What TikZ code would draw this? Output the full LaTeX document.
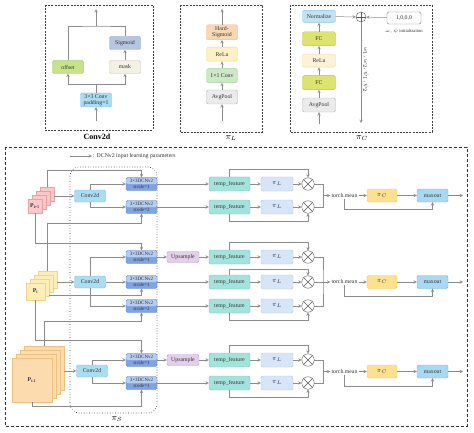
\documentclass[tikz,border=0pt]{standalone}
\usepackage{fontspec}
\setmainfont{Liberation Serif}
\usepackage{amsmath}
\usetikzlibrary{positioning, shapes.geometric}

\definecolor{linegray}{HTML}{8C8C8C}
\definecolor{txtgray}{HTML}{333333}
\definecolor{convfill}{HTML}{AADCF2}
\definecolor{convedge}{HTML}{7FBFE0}
\definecolor{offfill}{HTML}{C8E28C}
\definecolor{offedge}{HTML}{98C050}
\definecolor{maskfill}{HTML}{F3F0E6}
\definecolor{maskedge}{HTML}{C8C4B0}
\definecolor{sigfill}{HTML}{B4C6E0}
\definecolor{sigedge}{HTML}{8EA8CC}
\definecolor{hsigfill}{HTML}{F8D7B4}
\definecolor{hsigedge}{HTML}{E8B888}
\definecolor{relufill}{HTML}{FDF0C4}
\definecolor{reluedge}{HTML}{F0D890}
\definecolor{lconvfill}{HTML}{CDE8C6}
\definecolor{lconvedge}{HTML}{A8D0A0}
\definecolor{poolfill}{HTML}{EBEBEB}
\definecolor{pooledge}{HTML}{B8B8B8}
\definecolor{normfill}{HTML}{C2E2F2}
\definecolor{normedge}{HTML}{8CC4E0}
\definecolor{fcfill}{HTML}{DCE36E}
\definecolor{fcedge}{HTML}{B8C040}
\definecolor{kelufill}{HTML}{FDF1D6}
\definecolor{keluedge}{HTML}{F0D8A8}
\definecolor{pinkfill}{HTML}{FAC8C8}
\definecolor{pinkedge}{HTML}{E8A0A0}
\definecolor{yelfill}{HTML}{FDEDB8}
\definecolor{yeledge}{HTML}{F0D48C}
\definecolor{orgfill}{HTML}{FCDCAE}
\definecolor{orgedge}{HTML}{F0C080}
\definecolor{dcnlight}{HTML}{B6CDF2}
\definecolor{dcndark}{HTML}{80A4E2}
\definecolor{dcnedge}{HTML}{6C90D0}
\definecolor{tffill}{HTML}{A4E2DC}
\definecolor{tfedge}{HTML}{70C8C0}
\definecolor{plfill}{HTML}{D6E6F8}
\definecolor{pledge}{HTML}{B0C8E8}
\definecolor{upfill}{HTML}{E2D0EA}
\definecolor{upedge}{HTML}{C0A0D0}
\definecolor{pcfill}{HTML}{FDE18E}
\definecolor{pcedge}{HTML}{F0C860}
\definecolor{mxfill}{HTML}{A9D9F2}
\definecolor{mxedge}{HTML}{70B8E0}

\newcommand{\boxfont}{\fontsize{5.8}{6.3}\selectfont}
\newcommand{\dcnfont}{\fontsize{5}{5.6}\selectfont}
\newcommand{\labfont}{\fontsize{9}{10}\selectfont}

% stack of four feature maps, front one named #1
\newcommand{\fmstack}[8]{
    \foreach \k in {3,2,1}{
        \node[fmap, fill=#6, draw=#7, minimum width=#4pt, minimum height=#5pt] (#1\k) at (#2+4*\k,#3-4*\k) {};
    }
    \node[fmap, fill=#6, draw=#7, minimum width=#4pt, minimum height=#5pt] (#1) at (#2,#3) {#8};
}

\tikzset{
    block/.style={
        draw, rounded corners=1.5pt,
        minimum width = 31pt,
        minimum height = 13pt,
        inner sep = 0.5pt,
        align = center,
        text = txtgray,
        font = \boxfont
    },
    fmap/.style = {draw, inner sep=0pt, font=\boxfont, text=txtgray},
    dcn/.style = {block, draw=dcnedge, fill=dcndark, font=\dcnfont,
        path picture={\fill[dcnlight] (path picture bounding box.north west) rectangle (path picture bounding box.east);}},
    tf/.style = {block, fill=tffill, draw=tfedge, minimum width=41pt, minimum height=14pt},
    piL/.style = {block, fill=plfill, draw=pledge, minimum width=32pt, minimum height=14pt},
    prod/.style = {draw=black!65, circle, minimum size=12.5pt, inner sep=0pt,
        path picture={\draw[black!65] (path picture bounding box.north east) -- (path picture bounding box.south west)
            (path picture bounding box.north west) -- (path picture bounding box.south east);}},
    sumnode/.style = {draw=black!65, circle, minimum size=10pt, inner sep=0pt,
        path picture={\draw[black!65] (path picture bounding box.north) -- (path picture bounding box.south)
            (path picture bounding box.west) -- (path picture bounding box.east);}},
    plaintext/.style = {font=\boxfont, text=txtgray, inner sep=1pt},
    line/.style = {-stealth, linegray, line width=0.5pt},
    wire/.style = {linegray, line width=0.5pt},
    panel/.style = {draw=black!75, line width=0.7pt, dash pattern=on 2pt off 1.2pt},
    bigpanel/.style = {draw=black!80, line width=0.9pt, dash pattern=on 3pt off 2pt},
    spanel/.style = {draw=black!80, line width=0.6pt, dotted, rounded corners=9pt}
}

\begin{document}
\begin{tikzpicture}[x=1pt, y=-1pt]
\useasboundingbox (0,0) rectangle (474,433);

% Conv2d panel
\draw[panel] (45,5) rectangle (153,130);
\node[block, fill=convfill, draw=convedge, minimum height=14pt] (c-conv) at (96,100) {3×3 Conv\\padding=1};
\node[block, fill=offfill, draw=offedge] (c-offset) at (68,67) {offset};
\node[block, fill=maskfill, draw=maskedge] (c-mask) at (125,67) {mask};
\node[block, fill=sigfill, draw=sigedge] (c-sig) at (125,43) {Sigmoid};
\coordinate (c-in) at (96,121);
\coordinate (c-split) at (96,84);
\coordinate (c-join) at (96,26);
\coordinate (c-out) at (96,9);
\draw[line] (c-in) -- (c-conv);
\draw[wire] (c-conv) -- (c-split);
\draw[line] (c-split) -| (c-offset);
\draw[line] (c-split) -| (c-mask);
\draw[line] (c-mask) -- (c-sig);
\draw[wire] (c-offset) |- (c-join) -| (c-sig);
\draw[line] (c-join) -- (c-out);
\node[font=\bfseries\fontsize{8}{9}\selectfont] (c-title) at (97,137) {Conv2d};

% pi_L panel
\draw[panel] (180,5) rectangle (262,132);
\node[block, fill=poolfill, draw=pooledge, minimum height=14pt] (l-pool) at (222,97) {AvgPool};
\node[block, fill=lconvfill, draw=lconvedge, minimum height=14pt, above = 7pt of l-pool] (l-conv) {1×1 Conv};
\node[block, fill=relufill, draw=reluedge, minimum height=14pt, above = 7pt of l-conv] (l-relu) {ReLu};
\node[block, fill=hsigfill, draw=hsigedge, minimum height=15pt, above = 7pt of l-relu] (l-hsig) {Hard-\\Sigmoid};
\coordinate (l-in) at (222,121);
\coordinate (l-out) at (222,9);
\draw[line] (l-in) -- (l-pool);
\draw[line] (l-pool) -- (l-conv);
\draw[line] (l-conv) -- (l-relu);
\draw[line] (l-relu) -- (l-hsig);
\draw[line] (l-hsig) -- (l-out);
\node[font=\labfont] (l-title) at (231,138) {$\pi_L$};

% pi_C panel
\draw[panel] (290,5) rectangle (432,132);
\node[block, fill=poolfill, draw=pooledge, minimum width=33pt, minimum height=14pt] (k-pool) at (319,105) {AvgPool};
\node[block, fill=fcfill, draw=fcedge, minimum width=33pt, minimum height=14pt, above = 8pt of k-pool] (k-fc2) {FC};
\node[block, fill=kelufill, draw=keluedge, minimum width=33pt, minimum height=13pt, above = 8pt of k-fc2] (k-relu) {ReLu};
\node[block, fill=fcfill, draw=fcedge, minimum width=33pt, minimum height=14pt, above = 8pt of k-relu] (k-fc1) {FC};
\node[block, fill=normfill, draw=normedge, minimum width=33pt, minimum height=12pt, above = 9pt of k-fc1] (k-norm) {Normalize};
\node[sumnode] (k-sum) at (361,17) {};
\node[block, fill=white, draw=black!50, minimum width=34pt, minimum height=12pt] (k-init) at (404,18) {1,0,0,0};
\node[plaintext, font=\fontsize{4.6}{5}\selectfont] (k-initlab) at (404,31) {$\omega,\psi$ initialization};
\node[plaintext, rotate=-90] (k-par) at (366,70) {$\omega_1,\omega_2,\psi_1,\psi_2$};
\coordinate (k-in) at (319,124);
\coordinate (k-out) at (361,123);
\draw[line] (k-in) -- (k-pool);
\draw[line] (k-pool) -- (k-fc2);
\draw[line] (k-fc2) -- (k-relu);
\draw[line] (k-relu) -- (k-fc1);
\draw[line] (k-fc1) -- (k-norm);
\draw[line] (k-norm) -- (k-sum);
\draw[line] (k-init) -- (k-sum);
\draw[line] (k-sum) -- (k-out);
\node[font=\labfont] (k-title) at (362,138) {$\pi_C$};

% Main panel
\draw[bigpanel] (5,147) rectangle (467,426);
\draw[spanel] (70,167) rectangle (157,413);
\node[font=\labfont] (s-title) at (117,419) {$\pi_S$};

% Legend
\coordinate (leg-a) at (70,156);
\node[plaintext, anchor=west] (legend) at (92,156) {: DCNv2 input learning parameters};
\draw[line] (leg-a) -- (legend.west);

% Feature maps
\fmstack{Pp}{35}{206}{14}{14}{pinkfill}{pinkedge}{\textbf{P}\textsubscript{\textbf{i+1}}}
\fmstack{Pi}{35.5}{291.5}{19}{17}{yelfill}{yeledge}{\textbf{P}\textsubscript{\textbf{i}}}
\fmstack{Pm}{32}{380}{40}{44}{orgfill}{orgedge}{\textbf{P}\textsubscript{\textbf{i-1}}}

% Conv2d + DCNv2 blocks
\node[block, fill=convfill, draw=convedge, minimum height=12pt] (s-conv1) at (90,196) {Conv2d};
\node[block, fill=convfill, draw=convedge, minimum height=12pt] (s-conv2) at (90,282) {Conv2d};
\node[block, fill=convfill, draw=convedge, minimum height=12pt] (s-conv3) at (92,371) {Conv2d};
\node[dcn] (s-dcn1a) at (141.5,184) {3×3DCNv2\\stride=1};
\node[dcn] (s-dcn1b) at (141.5,207) {3×3DCNv2\\stride=2};
\node[dcn] (s-dcn2a) at (141.5,257) {3×3DCNv2\\stride=1};
\node[dcn] (s-dcn2b) at (141.5,282) {3×3DCNv2\\stride=1};
\node[dcn] (s-dcn2c) at (141.5,306) {3×3DCNv2\\stride=2};
\node[dcn] (s-dcn3a) at (141.5,360) {3×3DCNv2\\stride=1};
\node[dcn] (s-dcn3b) at (141.5,383) {3×3DCNv2\\stride=1};

% Lines, first level
\draw[line] (Pp3.east |- s-conv1.west) -- (s-conv1.west);
\draw[line] (s-conv1.north) |- (s-dcn1a.west);
\draw[line] (s-conv1.south) |- (s-dcn1b.west);
\draw[line] (Pp3.north) |- ([yshift=7.5pt]s-dcn1a.north) -- (s-dcn1a.north);
\draw[line] (Pi3.north) |- ([yshift=-10pt]s-dcn1b.south) -- (s-dcn1b.south);
\draw[line] (Pp.south) |- ([yshift=7pt]s-dcn2a.north) -- (s-dcn2a.north);

% Lines, second level
\draw[line] (Pi3.east |- s-conv2.west) -- (s-conv2.west);
\draw[line] (s-conv2.north) |- (s-dcn2a.west);
\draw[line] (s-conv2.east) -- (s-dcn2b.west);
\draw[line] (s-conv2.south) |- (s-dcn2c.west);
\draw[line] ([yshift=-7.5pt]Pi1.east) -| (s-dcn2b.south);
\draw[line] (Pm3.north) |- ([yshift=-9pt]s-dcn2c.south) -- (s-dcn2c.south);
\draw[line] (Pi.south) |- ([yshift=13pt]s-dcn3a.north) -- (s-dcn3a.north);

% Lines, third level
\draw[line] (Pm3.east |- s-conv3.west) -- (s-conv3.west);
\draw[line] (s-conv3.north) |- (s-dcn3a.west);
\draw[line] (s-conv3.south) |- (s-dcn3b.west);
\draw[line] (Pm.south) |- ([yshift=-16.5pt]s-dcn3b.south) -- (s-dcn3b.south);

% pi_L branches
\node[block, fill=upfill, draw=upedge, minimum width=32pt, minimum height=11pt] (r-up2) at (183,257) {Upsample};
\node[block, fill=upfill, draw=upedge, minimum width=32pt, minimum height=11pt] (r-up3) at (183,360) {Upsample};
\node[tf] (r-tf1a) at (229.5,184) {temp\_feature};
\node[tf] (r-tf1b) at (229.5,207) {temp\_feature};
\node[tf] (r-tf2a) at (229.5,257) {temp\_feature};
\node[tf] (r-tf2b) at (229.5,282) {temp\_feature};
\node[tf] (r-tf2c) at (229.5,306) {temp\_feature};
\node[tf] (r-tf3a) at (229.5,360) {temp\_feature};
\node[tf] (r-tf3b) at (229.5,383) {temp\_feature};
\node[piL] (r-pl1a) at (277,184) {$\pi_L$};
\node[piL] (r-pl1b) at (277,207) {$\pi_L$};
\node[piL] (r-pl2a) at (277,257) {$\pi_L$};
\node[piL] (r-pl2b) at (277,282) {$\pi_L$};
\node[piL] (r-pl2c) at (277,306) {$\pi_L$};
\node[piL] (r-pl3a) at (277,360) {$\pi_L$};
\node[piL] (r-pl3b) at (277,383) {$\pi_L$};
\node[prod] (r-x1a) at (308,184) {};
\node[prod] (r-x1b) at (308,207) {};
\node[prod] (r-x2a) at (308,257) {};
\node[prod] (r-x2b) at (308,282) {};
\node[prod] (r-x2c) at (308,306) {};
\node[prod] (r-x3a) at (308,360) {};
\node[prod] (r-x3b) at (308,383) {};

\draw[line] (s-dcn1a) -- (r-tf1a);
\draw[line] (s-dcn1b) -- (r-tf1b);
\draw[line] (s-dcn2a) -- (r-up2);
\draw[line] (r-up2) -- (r-tf2a);
\draw[line] (s-dcn2b) -- (r-tf2b);
\draw[line] (s-dcn2c) -- (r-tf2c);
\draw[line] (s-dcn3a) -- (r-up3);
\draw[line] (r-up3) -- (r-tf3a);
\draw[line] (s-dcn3b) -- (r-tf3b);

\draw[line] (r-tf1a) -- (r-pl1a);
\draw[line] (r-tf1b) -- (r-pl1b);
\draw[line] (r-tf2a) -- (r-pl2a);
\draw[line] (r-tf2b) -- (r-pl2b);
\draw[line] (r-tf2c) -- (r-pl2c);
\draw[line] (r-tf3a) -- (r-pl3a);
\draw[line] (r-tf3b) -- (r-pl3b);
\draw[line] (r-pl1a) -- (r-x1a);
\draw[line] (r-pl1b) -- (r-x1b);
\draw[line] (r-pl2a) -- (r-x2a);
\draw[line] (r-pl2b) -- (r-x2b);
\draw[line] (r-pl2c) -- (r-x2c);
\draw[line] (r-pl3a) -- (r-x3a);
\draw[line] (r-pl3b) -- (r-x3b);

\draw[line] (r-tf1a.north) |- ([yshift=8pt]r-x1a.north) -- (r-x1a.north);
\draw[line] (r-tf1b.south) |- ([yshift=-8pt]r-x1b.south) -- (r-x1b.south);
\draw[line] (r-tf2a.north) |- ([yshift=8pt]r-x2a.north) -- (r-x2a.north);
\draw[line] (r-tf2b.north) |- ([yshift=6pt]r-x2b.north) -- (r-x2b.north);
\draw[line] (r-tf2c.south) |- ([yshift=-8pt]r-x2c.south) -- (r-x2c.south);
\draw[line] (r-tf3a.north) |- ([yshift=8pt]r-x3a.north) -- (r-x3a.north);
\draw[line] (r-tf3b.south) |- ([yshift=-8pt]r-x3b.south) -- (r-x3b.south);

% pi_C outputs
\node[plaintext] (o-tm1) at (344.5,195.5) {torch.mean};
\node[plaintext] (o-tm2) at (344.5,282) {torch.mean};
\node[plaintext] (o-tm3) at (344.5,371.5) {torch.mean};
\node[block, fill=pcfill, draw=pcedge, minimum width=30pt] (o-pc1) at (382,195.5) {$\pi_C$};
\node[block, fill=pcfill, draw=pcedge, minimum width=30pt] (o-pc2) at (382,282) {$\pi_C$};
\node[block, fill=pcfill, draw=pcedge, minimum width=30pt] (o-pc3) at (382,371.5) {$\pi_C$};
\node[block, fill=mxfill, draw=mxedge] (o-mx1) at (432.5,195.5) {maxout};
\node[block, fill=mxfill, draw=mxedge] (o-mx2) at (432.5,282) {maxout};
\node[block, fill=mxfill, draw=mxedge] (o-mx3) at (432.5,371.5) {maxout};
\coordinate (o-j1) at (323,195.5);
\coordinate (o-j3) at (323,371.5);
\coordinate (o-out1) at (463,195.5);
\coordinate (o-out2) at (463,282);
\coordinate (o-out3) at (463,371.5);

\draw[wire] (r-x1a.east) -| (o-j1);
\draw[wire] (r-x1b.east) -| (o-j1);
\draw[line] (o-j1) -- (o-tm1.west);
\draw[wire] (r-x2a.east) -| (o-tm2.west -| o-j1) |- (r-x2c.east);
\draw[line] (r-x2b.east) -- (o-tm2.west);
\draw[wire] (r-x3a.east) -| (o-j3);
\draw[wire] (r-x3b.east) -| (o-j3);
\draw[line] (o-j3) -- (o-tm3.west);

\draw[line] (o-tm1) -- (o-pc1);
\draw[line] (o-tm2) -- (o-pc2);
\draw[line] (o-tm3) -- (o-pc3);
\draw[line] (o-pc1) -- (o-mx1);
\draw[line] (o-pc2) -- (o-mx2);
\draw[line] (o-pc3) -- (o-mx3);
\draw[line] (o-mx1) -- (o-out1);
\draw[line] (o-mx2) -- (o-out2);
\draw[line] (o-mx3) -- (o-out3);
\draw[line] (o-tm1.south) |- ([yshift=-7pt]o-mx1.south) -- (o-mx1.south);
\draw[line] (o-tm2.south) |- ([yshift=-8pt]o-mx2.south) -- (o-mx2.south);
\draw[line] (o-tm3.south) |- ([yshift=-8pt]o-mx3.south) -- (o-mx3.south);

\end{tikzpicture}
\end{document}
